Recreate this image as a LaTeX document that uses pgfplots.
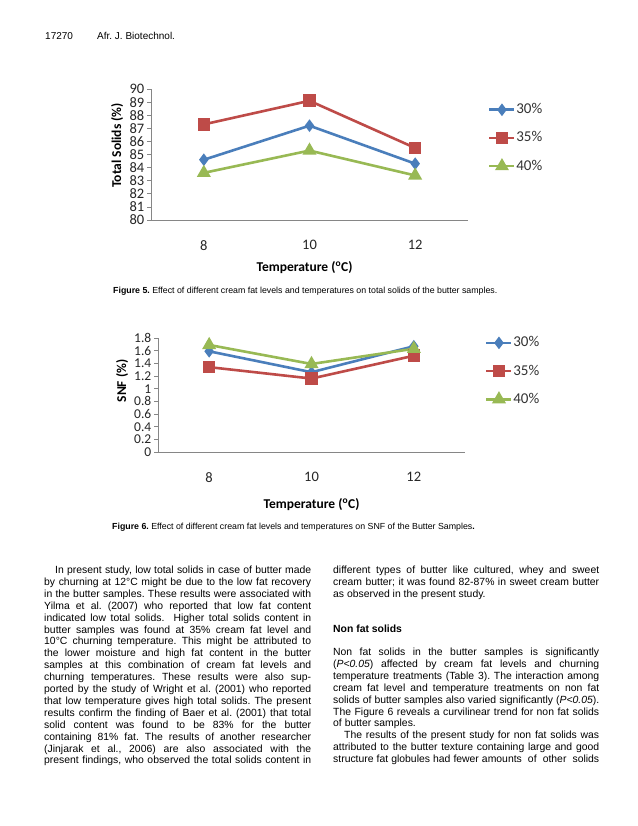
\documentclass[border=0pt]{standalone}
\usepackage{fontspec}
\setmainfont{Liberation Sans}
\newfontfamily\chartfont{Carlito}
\usepackage{pgfplots}
\pgfplotsset{compat=1.18}
\frenchspacing
\definecolor{sblue}{HTML}{4A7EBB}
\definecolor{sred}{HTML}{BE4B48}
\definecolor{sgreen}{HTML}{98B954}
\definecolor{axgray}{HTML}{868686}
\newcommand\jl[1]{\hbox to \hsize{#1}}
\newcommand\nl[1]{\hbox{#1}}
\pgfplotsset{mychart/.style={
  scale only axis, clip=false,
  axis x line*=bottom, axis y line*=left,
  axis line style={axgray, line width=0.8bp, -},
  xmin=7, xmax=13, xtick={8,10,12},
  x tick style={draw=none},
  y tick style={axgray, line width=0.8bp},
  tick align=outside, major tick length=4bp,
  /pgf/number format/assume math mode=true,
  tick label style={font=\chartfont\fontsize{14.5bp}{14.5bp}\selectfont, text=black!85},
  yticklabel style={inner xsep=2.5bp, inner ysep=0.5bp},
  xticklabel style={yshift=-13bp},
  label style={font=\chartfont\bfseries\fontsize{13.5bp}{13.5bp}\selectfont},
  xlabel={Temperature (\textsuperscript{o}C)},
  legend cell align=left,
  legend style={draw=none, fill=none, inner sep=0pt, anchor=west, row sep=15bp,
    nodes={inner sep=0.6bp, text height=10bp, text depth=2bp, text=black!80,
      font=\chartfont\fontsize{15bp}{15bp}\selectfont}},
  legend image code/.code={\draw[mark repeat=2,mark phase=2,##1] plot coordinates {(0bp,0bp) (12.5bp,0bp) (25bp,0bp)};},
  every axis plot/.append style={line width=2.6bp},
}}
\begin{document}
\begin{tikzpicture}
\fill[white] (0,0) rectangle (638bp,-826bp);
\path[use as bounding box] (0,0) rectangle (638bp,-826bp);
% header
\node[anchor=west, inner sep=0, font=\fontsize{10bp}{12bp}\selectfont] at (45bp,-36bp) {17270};
\node[anchor=west, inner sep=0, font=\fontsize{10bp}{12bp}\selectfont] at (97bp,-36bp) {Afr. J. Biotechnol.};

% Figure 5
\begin{axis}[mychart, at={(151bp,-220bp)}, anchor=south west, width=317bp, height=131bp,
  ymin=80, ymax=90, ytick={80,81,82,83,84,85,86,87,88,89,90},
  ylabel={Total Solids (\%)},
  ylabel style={at={(axis description cs:-0.107,0.569)}, anchor=center},
  xlabel style={at={(axis description cs:0.5,0)}, anchor=center, yshift=-48bp, xshift=-5bp},
  legend style={at={(axis description cs:1.063,0.626)}}]
\addplot[sblue, mark=diamond*, mark size=4.2bp] coordinates {(8,84.6) (10,87.2) (12,84.3)};
\addplot[sred, mark=square*, mark size=5bp] coordinates {(8,87.3) (10,89.1) (12,85.5)};
\addplot[sgreen, mark=triangle*, mark size=5.5bp] coordinates {(8,83.6) (10,85.3) (12,83.4)};
\legend{30\%,35\%,40\%}
\end{axis}
\node[anchor=west, inner sep=0, font=\fontsize{8.8bp}{10bp}\selectfont] at (113bp,-291bp)
  {\textbf{Figure 5.} Effect of different cream fat levels and temperatures on total solids of the butter samples.};

% Figure 6
\begin{axis}[mychart, at={(158bp,-452bp)}, anchor=south west, width=307bp, height=114bp,
  ymin=0, ymax=1.8, ytick={0,0.2,0.4,0.6,0.8,1,1.2,1.4,1.6,1.8},
  yticklabel style={font=\chartfont\fontsize{13.5bp}{13.5bp}\selectfont},
  ylabel={SNF (\%)},
  ylabel style={at={(axis description cs:-0.117,0.623)}, anchor=center},
  xlabel style={at={(axis description cs:0.5,0)}, anchor=center, yshift=-53bp},
  legend style={at={(axis description cs:1.065,0.71)}}]
\addplot[sblue, mark=diamond*, mark size=4.2bp] coordinates {(8,1.59) (10,1.26) (12,1.67)};
\addplot[sred, mark=square*, mark size=5bp] coordinates {(8,1.34) (10,1.16) (12,1.52)};
\addplot[sgreen, mark=triangle*, mark size=5.5bp] coordinates {(8,1.69) (10,1.39) (12,1.63)};
\legend{30\%,35\%,40\%}
\end{axis}
\node[anchor=west, inner sep=0, font=\fontsize{8.8bp}{10bp}\selectfont] at (112bp,-527bp)
  {\textbf{Figure 6.} Effect of different cream fat levels and temperatures on SNF of the Butter Samples\textbf{.}};

% body text, left column
\node[anchor=base west, inner sep=0, font=\fontsize{10.4bp}{11.9bp}\selectfont] at (44bp,-573.5bp) {\vtop{\hsize=267bp
\jl{\hspace*{11bp}In present study, low total solids in case of butter made}
\jl{by churning at 12°C might be due to the low fat recovery}
\jl{in the butter samples. These results were associated with}
\jl{Yilma et al. (2007) who reported that low fat content}
\jl{indicated low total solids.\ \ Higher total solids content in}
\jl{butter samples was found at 35\% cream fat level and}
\jl{10°C churning temperature. This might be attributed to}
\jl{the lower moisture and high fat content in the butter}
\jl{samples at this combination of cream fat levels and}
\jl{churning temperatures. These results were also sup-}
\jl{ported by the study of Wright et al. (2001) who reported}
\jl{that low temperature gives high total solids. The present}
\jl{results confirm the finding of Baer et al. (2001) that total}
\jl{solid content was found to be 83\% for the butter}
\jl{containing 81\% fat. The results of another researcher}
\jl{(Jinjarak et al., 2006) are also associated with the}
\jl{present findings, who observed the total solids content in}
}};

% right column
\node[anchor=base west, inner sep=0, font=\fontsize{10.4bp}{11.9bp}\selectfont] at (333bp,-573.5bp) {\vtop{\hsize=266bp
\jl{different types of butter like cultured, whey and sweet}
\jl{cream butter; it was found 82-87\% in sweet cream butter}
\nl{as observed in the present study.}
}};
\node[anchor=base west, inner sep=0, font=\bfseries\fontsize{10.4bp}{11.9bp}\selectfont] at (333bp,-632.7bp) {Non fat solids};
\node[anchor=base west, inner sep=0, font=\fontsize{10.4bp}{11.9bp}\selectfont] at (333bp,-655.5bp) {\vtop{\hsize=266bp
\jl{Non fat solids in the butter samples is significantly}
\jl{(\textit{P<0.05}) affected by cream fat levels and churning}
\jl{temperature treatments (Table 3). The interaction among}
\jl{cream fat level and temperature treatments on non fat}
\jl{solids of butter samples also varied significantly (\textit{P<0.05}).}
\jl{The Figure 6 reveals a curvilinear trend for non fat solids}
\nl{of butter samples.}
\jl{\hspace*{11bp}The results of the present study for non fat solids was}
\jl{attributed to the butter texture containing large and good}
\jl{structure fat globules had fewer amounts\ \ of\ \ other\ \ solids}
}};
\end{tikzpicture}
\end{document}
